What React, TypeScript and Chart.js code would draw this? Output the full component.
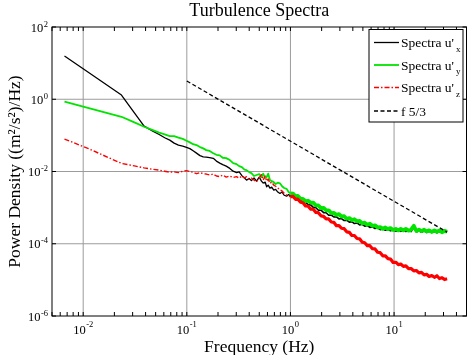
import React, { useEffect, useRef } from 'react';
import { Chart, registerables } from 'chart.js';

Chart.register(...registerables);

// ---------------- data ----------------
const FREQ_HZ = [
  0.0066, 0.0111, 0.0234, 0.0312, 0.0387, 0.047, 0.0541, 0.0612, 0.0685, 0.0754,
  0.083, 0.0913, 0.0993, 0.107, 0.115, 0.124, 0.134, 0.144, 0.154, 0.166,
  0.18, 0.193, 0.208, 0.222, 0.24, 0.26, 0.28, 0.302, 0.32, 0.34,
  0.36, 0.377, 0.40, 0.42, 0.445, 0.471, 0.50, 0.525, 0.546, 0.57,
  0.589, 0.61, 0.634, 0.66, 0.69, 0.72, 0.755, 0.792, 0.83, 0.87,
  0.919, 0.96, 1.0,
  1.06, 1.12, 1.18, 1.25, 1.32, 1.4, 1.48, 1.57, 1.66, 1.76,
  1.86, 1.97, 2.09, 2.21, 2.34, 2.48, 2.62, 2.78, 2.94, 3.11,
  3.3, 3.49, 3.7, 3.91, 4.14, 4.39, 4.65, 4.92, 5.21, 5.52,
  5.84, 6.19, 6.55, 6.94, 7.35, 7.78, 8.24, 8.73, 9.24, 9.79,
  10.4, 11.0, 11.6, 12.3, 13.0, 13.8, 14.6, 15.5, 16.4, 17.4,
  18.4, 19.5, 20.6, 21.8, 23.1, 24.5, 25.9, 27.4, 29.0, 30.7, 32.5,
];

const PSD_UX = [
  15.7, 5.7, 1.31, 0.42, 0.181, 0.131, 0.106, 0.086, 0.074, 0.061,
  0.054, 0.0506, 0.0465, 0.043, 0.0375, 0.0323, 0.0275, 0.0255, 0.025, 0.0243,
  0.0231, 0.0194, 0.0171, 0.0155, 0.0141, 0.0122, 0.0102, 0.0093, 0.0098, 0.0077,
  0.0066, 0.00578, 0.0064, 0.0056, 0.0066, 0.0054, 0.0070, 0.0054, 0.0048, 0.0051,
  0.00377, 0.0042, 0.00347, 0.0037, 0.00305, 0.0032, 0.0027, 0.00247, 0.0027, 0.0022,
  0.00208, 0.0023, 0.0021,
  2.02e-3, 2.01e-3, 1.73e-3, 1.68e-3, 1.42e-3, 1.39e-3, 1.21e-3, 1.19e-3, 1.02e-3, 9.95e-4,
  8.49e-4, 8.51e-4, 7.29e-4, 7.23e-4, 6.15e-4, 6.22e-4, 5.51e-4, 5.56e-4, 4.86e-4, 4.99e-4,
  4.39e-4, 4.51e-4, 3.94e-4, 4.10e-4, 3.62e-4, 3.76e-4, 3.33e-4, 3.45e-4, 3.06e-4, 3.20e-4,
  2.84e-4, 2.96e-4, 2.64e-4, 2.76e-4, 2.45e-4, 2.61e-4, 2.37e-4, 2.52e-4, 2.28e-4, 2.43e-4,
  2.23e-4, 2.40e-4, 2.20e-4, 2.38e-4, 2.18e-4, 2.36e-4, 2.16e-4, 2.88e-4, 2.12e-4, 2.28e-4,
  2.09e-4, 2.25e-4, 2.06e-4, 2.22e-4, 2.03e-4, 2.19e-4, 2.01e-4, 2.18e-4, 2.00e-4, 2.17e-4, 2.09e-4,
];

const PSD_UY = [
  0.853, 0.574, 0.327, 0.228, 0.173, 0.140, 0.119, 0.107, 0.0957, 0.0957,
  0.087, 0.080, 0.071, 0.064, 0.057, 0.054, 0.0475, 0.0436, 0.039, 0.037,
  0.032, 0.029, 0.028, 0.024, 0.0235, 0.0207, 0.0171, 0.016, 0.0141, 0.0132,
  0.0112, 0.0109, 0.0096, 0.0090, 0.0075, 0.0080, 0.0085, 0.0070, 0.0087, 0.0066,
  0.0070, 0.0087, 0.0058, 0.0054, 0.0051, 0.0045, 0.0049, 0.0047, 0.0039, 0.0035,
  0.0033, 0.0027, 0.0025,
  2.43e-3, 2.07e-3, 2.11e-3, 1.75e-3, 1.75e-3, 1.50e-3, 1.55e-3, 1.36e-3, 1.38e-3, 1.15e-3,
  1.15e-3, 9.66e-4, 9.82e-4, 8.36e-4, 8.43e-4, 7.08e-4, 7.18e-4, 6.30e-4, 6.59e-4, 5.68e-4,
  5.78e-4, 4.92e-4, 5.13e-4, 4.52e-4, 4.76e-4, 4.19e-4, 4.27e-4, 3.67e-4, 3.83e-4, 3.37e-4,
  3.59e-4, 3.13e-4, 3.24e-4, 2.82e-4, 2.90e-4, 2.59e-4, 2.81e-4, 2.54e-4, 2.72e-4, 2.40e-4,
  2.58e-4, 2.34e-4, 2.58e-4, 2.36e-4, 2.57e-4, 2.30e-4, 2.45e-4, 3.13e-4, 2.25e-4, 2.44e-4,
  2.24e-4, 2.44e-4, 2.18e-4, 2.35e-4, 2.13e-4, 2.34e-4, 2.15e-4, 2.32e-4, 2.08e-4, 2.27e-4, 2.14e-4,
];

const PSD_UZ = [
  0.079, 0.0436, 0.0168, 0.0143, 0.0126, 0.0115, 0.0109, 0.0102, 0.0096, 0.0098,
  0.0093, 0.0102, 0.0106, 0.0099, 0.0096, 0.0087, 0.0093, 0.0087, 0.0085, 0.0080,
  0.0085, 0.0075, 0.0072, 0.0080, 0.0070, 0.0075, 0.0068, 0.0072, 0.0066, 0.0075,
  0.0066, 0.0072, 0.0062, 0.0066, 0.0058, 0.0052, 0.0066, 0.0082, 0.0058, 0.0075,
  0.0054, 0.0062, 0.0047, 0.0051, 0.0042, 0.0039, 0.0035, 0.0031, 0.0029, 0.0025,
  0.0022, 0.0021, 0.0020,
  2.04e-3, 1.70e-3, 1.71e-3, 1.42e-3, 1.37e-3, 1.11e-3, 1.10e-3, 9.04e-4, 9.04e-4, 7.40e-4,
  7.24e-4, 5.92e-4, 5.75e-4, 4.86e-4, 4.86e-4, 4.00e-4, 3.92e-4, 3.17e-4, 3.19e-4, 2.68e-4,
  2.61e-4, 2.14e-4, 2.07e-4, 1.70e-4, 1.69e-4, 1.40e-4, 1.37e-4, 1.11e-4, 1.07e-4, 8.83e-5,
  8.83e-5, 7.28e-5, 7.19e-5, 5.82e-5, 5.66e-5, 4.63e-5, 4.61e-5, 3.86e-5, 3.76e-5, 3.04e-5,
  3.08e-5, 2.63e-5, 2.75e-5, 2.37e-5, 2.44e-5, 2.05e-5, 2.06e-5, 1.77e-5, 1.82e-5, 1.56e-5,
  1.61e-5, 1.38e-5, 1.43e-5, 1.24e-5, 1.32e-5, 1.18e-5, 1.30e-5, 1.09e-5, 1.15e-5, 1.02e-5, 1.07e-5,
];

const REF_FREQ = [0.1, 32.5];
const REF_PSD = [3.2, 2.1e-4];

const X_MIN = 0.005;
const X_MAX = 50;
const Y_MIN = 1e-6;
const Y_MAX = 1e2;
const X_TICK_EXP = [-2, -1, 0, 1];
const Y_TICK_EXP = [-6, -4, -2, 0, 2];

const TITLE = 'Turbulence Spectra';
const X_LABEL = 'Frequency (Hz)';
const Y_LABEL = 'Power Density ((m²/s²)/Hz)';
const LEGEND_ITEMS = [
  { text: "Spectra u'", sub: 'x' },
  { text: "Spectra u'", sub: 'y' },
  { text: "Spectra u'", sub: 'z' },
  { text: 'f 5/3', sub: '' },
];

// ---------------- styles ----------------
const FONT = "'Liberation Serif', 'Times New Roman', serif";
const GREEN = '#00e400';
const RED = '#ff0000';
const GRID = '#9c9c9c';
const DASH_DOT = [5, 2, 1.5, 2];
const DASHED = [4, 2.5];

const SERIES_STYLE = [
  { color: '#000000', width: 1.3, dash: [] as number[] },
  { color: GREEN, width: 1.8, dash: [] as number[] },
  { color: RED, width: 1.4, dash: DASH_DOT },
  { color: '#000000', width: 1.3, dash: DASHED },
];

function pts(xs: number[], ys: number[]) {
  return xs.map((x, i) => ({ x, y: ys[i] }));
}

function drawPow(ctx: CanvasRenderingContext2D, x: number, yBase: number, exp: number, align: 'center' | 'right', raise: number) {
  const es = String(exp);
  ctx.font = `12.5px ${FONT}`;
  const w1 = ctx.measureText('10').width;
  ctx.font = `8.5px ${FONT}`;
  const w2 = ctx.measureText(es).width;
  const total = w1 + w2 + 0.5;
  const x0 = align === 'center' ? x - total / 2 : x - total;
  ctx.textAlign = 'left';
  ctx.textBaseline = 'alphabetic';
  ctx.font = `12.5px ${FONT}`;
  ctx.fillText('10', x0, yBase);
  ctx.font = `8.5px ${FONT}`;
  ctx.fillText(es, x0 + w1 + 0.5, yBase - raise);
}

const decorPlugin = {
  id: 'decor',
  beforeDatasetsDraw(chart: any) {
    const { ctx, chartArea: a, scales } = chart;
    const xs = scales.x;
    const ys = scales.y;
    ctx.save();
    ctx.fillStyle = '#ffffff';
    ctx.fillRect(0, 0, chart.width, chart.height);
    ctx.strokeStyle = GRID;
    ctx.lineWidth = 1;
    ctx.beginPath();
    for (const e of X_TICK_EXP) {
      const px = xs.getPixelForValue(Math.pow(10, e));
      ctx.moveTo(px, a.top);
      ctx.lineTo(px, a.bottom);
    }
    for (const e of Y_TICK_EXP) {
      const py = ys.getPixelForValue(Math.pow(10, e));
      if (Math.abs(py - a.top) < 1 || Math.abs(py - a.bottom) < 1) continue;
      ctx.moveTo(a.left, py);
      ctx.lineTo(a.right, py);
    }
    ctx.stroke();
    ctx.restore();
  },
  afterDraw(chart: any) {
    const { ctx, chartArea: a, scales } = chart;
    const xs = scales.x;
    const ys = scales.y;
    ctx.save();
    ctx.fillStyle = '#000';
    ctx.strokeStyle = '#000';
    ctx.lineWidth = 1;

    // tick marks (inside)
    ctx.beginPath();
    for (let e = -3; e <= 1; e++) {
      for (let k = 1; k <= 9; k++) {
        const v = k * Math.pow(10, e);
        if (v < X_MIN || v > X_MAX) continue;
        const px = xs.getPixelForValue(v);
        ctx.moveTo(px, a.bottom);
        ctx.lineTo(px, a.bottom - 4);
        ctx.moveTo(px, a.top);
        ctx.lineTo(px, a.top + 4);
      }
    }
    for (const e of Y_TICK_EXP) {
      const py = ys.getPixelForValue(Math.pow(10, e));
      ctx.moveTo(a.left, py);
      ctx.lineTo(a.left + 4, py);
      ctx.moveTo(a.right, py);
      ctx.lineTo(a.right - 4, py);
    }
    ctx.stroke();

    // frame
    ctx.strokeRect(a.left, a.top, a.right - a.left, a.bottom - a.top);

    // tick labels
    for (const e of X_TICK_EXP) {
      const px = xs.getPixelForValue(Math.pow(10, e));
      drawPow(ctx, px, a.bottom + 17.5, e, 'center', 6.5);
    }
    for (const e of Y_TICK_EXP) {
      const py = ys.getPixelForValue(Math.pow(10, e));
      drawPow(ctx, a.left - 4, py + 4.5, e, 'right', 5);
    }

    // title and axis labels
    const cx = (a.left + a.right) / 2;
    const cy = (a.top + a.bottom) / 2;
    ctx.textAlign = 'center';
    ctx.textBaseline = 'alphabetic';
    ctx.font = `18px ${FONT}`;
    ctx.fillText(TITLE, cx, 16);
    ctx.font = `17.5px ${FONT}`;
    ctx.fillText(X_LABEL, cx, a.bottom + 35.5);
    ctx.save();
    ctx.translate(19.5, cy);
    ctx.rotate(-Math.PI / 2);
    ctx.fillText(Y_LABEL, 0, 0);
    ctx.restore();

    // legend
    const lx0 = a.right - 97.5;
    const lx1 = a.right - 3.5;
    const ly0 = a.top + 2.5;
    const ly1 = a.top + 95;
    ctx.fillStyle = '#ffffff';
    ctx.fillRect(lx0, ly0, lx1 - lx0, ly1 - ly0);
    ctx.strokeStyle = '#000';
    ctx.lineWidth = 1;
    ctx.strokeRect(lx0, ly0, lx1 - lx0, ly1 - ly0);
    const rowY = [15.5, 38, 60.5, 84];
    LEGEND_ITEMS.forEach((item, i) => {
      const st = SERIES_STYLE[i];
      const y = a.top + rowY[i];
      ctx.save();
      ctx.strokeStyle = st.color;
      ctx.lineWidth = st.width;
      ctx.setLineDash(st.dash);
      ctx.beginPath();
      ctx.moveTo(lx0 + 5, y);
      ctx.lineTo(lx0 + 30, y);
      ctx.stroke();
      ctx.restore();
      ctx.fillStyle = '#000';
      ctx.textAlign = 'left';
      ctx.font = `13.5px ${FONT}`;
      const tx = lx0 + 32;
      ctx.fillText(item.text, tx, y + 4.5);
      if (item.sub) {
        const w = ctx.measureText(item.text).width;
        ctx.font = `9px ${FONT}`;
        ctx.fillText(item.sub, tx + w + 2, y + 9);
      }
    });

    ctx.restore();
  },
};

export default function App() {
  const ref = useRef<HTMLCanvasElement | null>(null);

  useEffect(() => {
    document.body.style.margin = '0';
    const canvas = ref.current;
    if (!canvas) return;
    const datasets = [
      { data: pts(FREQ_HZ, PSD_UX), order: 4 },
      { data: pts(FREQ_HZ, PSD_UY), order: 3 },
      { data: pts(FREQ_HZ, PSD_UZ), order: 2 },
      { data: pts(REF_FREQ, REF_PSD), order: 1 },
    ].map((d, i) => {
      const st = SERIES_STYLE[i];
      const ds: any = {
        label: LEGEND_ITEMS[i].text + LEGEND_ITEMS[i].sub,
        data: d.data,
        order: d.order,
        borderColor: st.color,
        backgroundColor: st.color,
        borderWidth: st.width,
        borderDash: st.dash,
        borderJoinStyle: 'round',
        pointRadius: 0,
        tension: 0,
        fill: false,
      };
      if (i === 0) {
        ds.segment = { borderWidth: (c: any) => (c.p0.parsed.x >= 1 ? 1.6 : undefined) };
      }
      if (i === 1) {
        ds.segment = { borderWidth: (c: any) => (c.p0.parsed.x >= 1 ? 3.8 : undefined) };
      }
      if (i === 2) {
        ds.segment = {
          borderDash: (c: any) => (c.p0.parsed.x >= 0.99 ? [] : undefined),
          borderWidth: (c: any) => (c.p0.parsed.x >= 1 ? 3.2 : undefined),
        };
      }
      return ds;
    });

    const chart = new Chart(canvas, {
      type: 'line',
      data: { datasets },
      options: {
        responsive: false,
        animation: false,
        events: [],
        layout: { padding: { top: 27, right: 7.5, left: 0, bottom: 0 } },
        plugins: {
          legend: { display: false },
          title: { display: false },
          tooltip: { enabled: false },
        },
        scales: {
          x: {
            type: 'logarithmic',
            min: X_MIN,
            max: X_MAX,
            ticks: { display: false },
            grid: { display: false },
            border: { display: false },
            afterFit: (s: any) => { s.height = 39; },
          },
          y: {
            type: 'logarithmic',
            min: Y_MIN,
            max: Y_MAX,
            ticks: { display: false },
            grid: { display: false },
            border: { display: false },
            afterFit: (s: any) => { s.width = 52; },
          },
        },
      } as any,
      plugins: [decorPlugin],
    });
    return () => chart.destroy();
  }, []);

  return (
    <div style={{ width: 474, height: 355 }}>
      <canvas ref={ref} width={474} height={355} style={{ display: 'block' }} />
    </div>
  );
}
